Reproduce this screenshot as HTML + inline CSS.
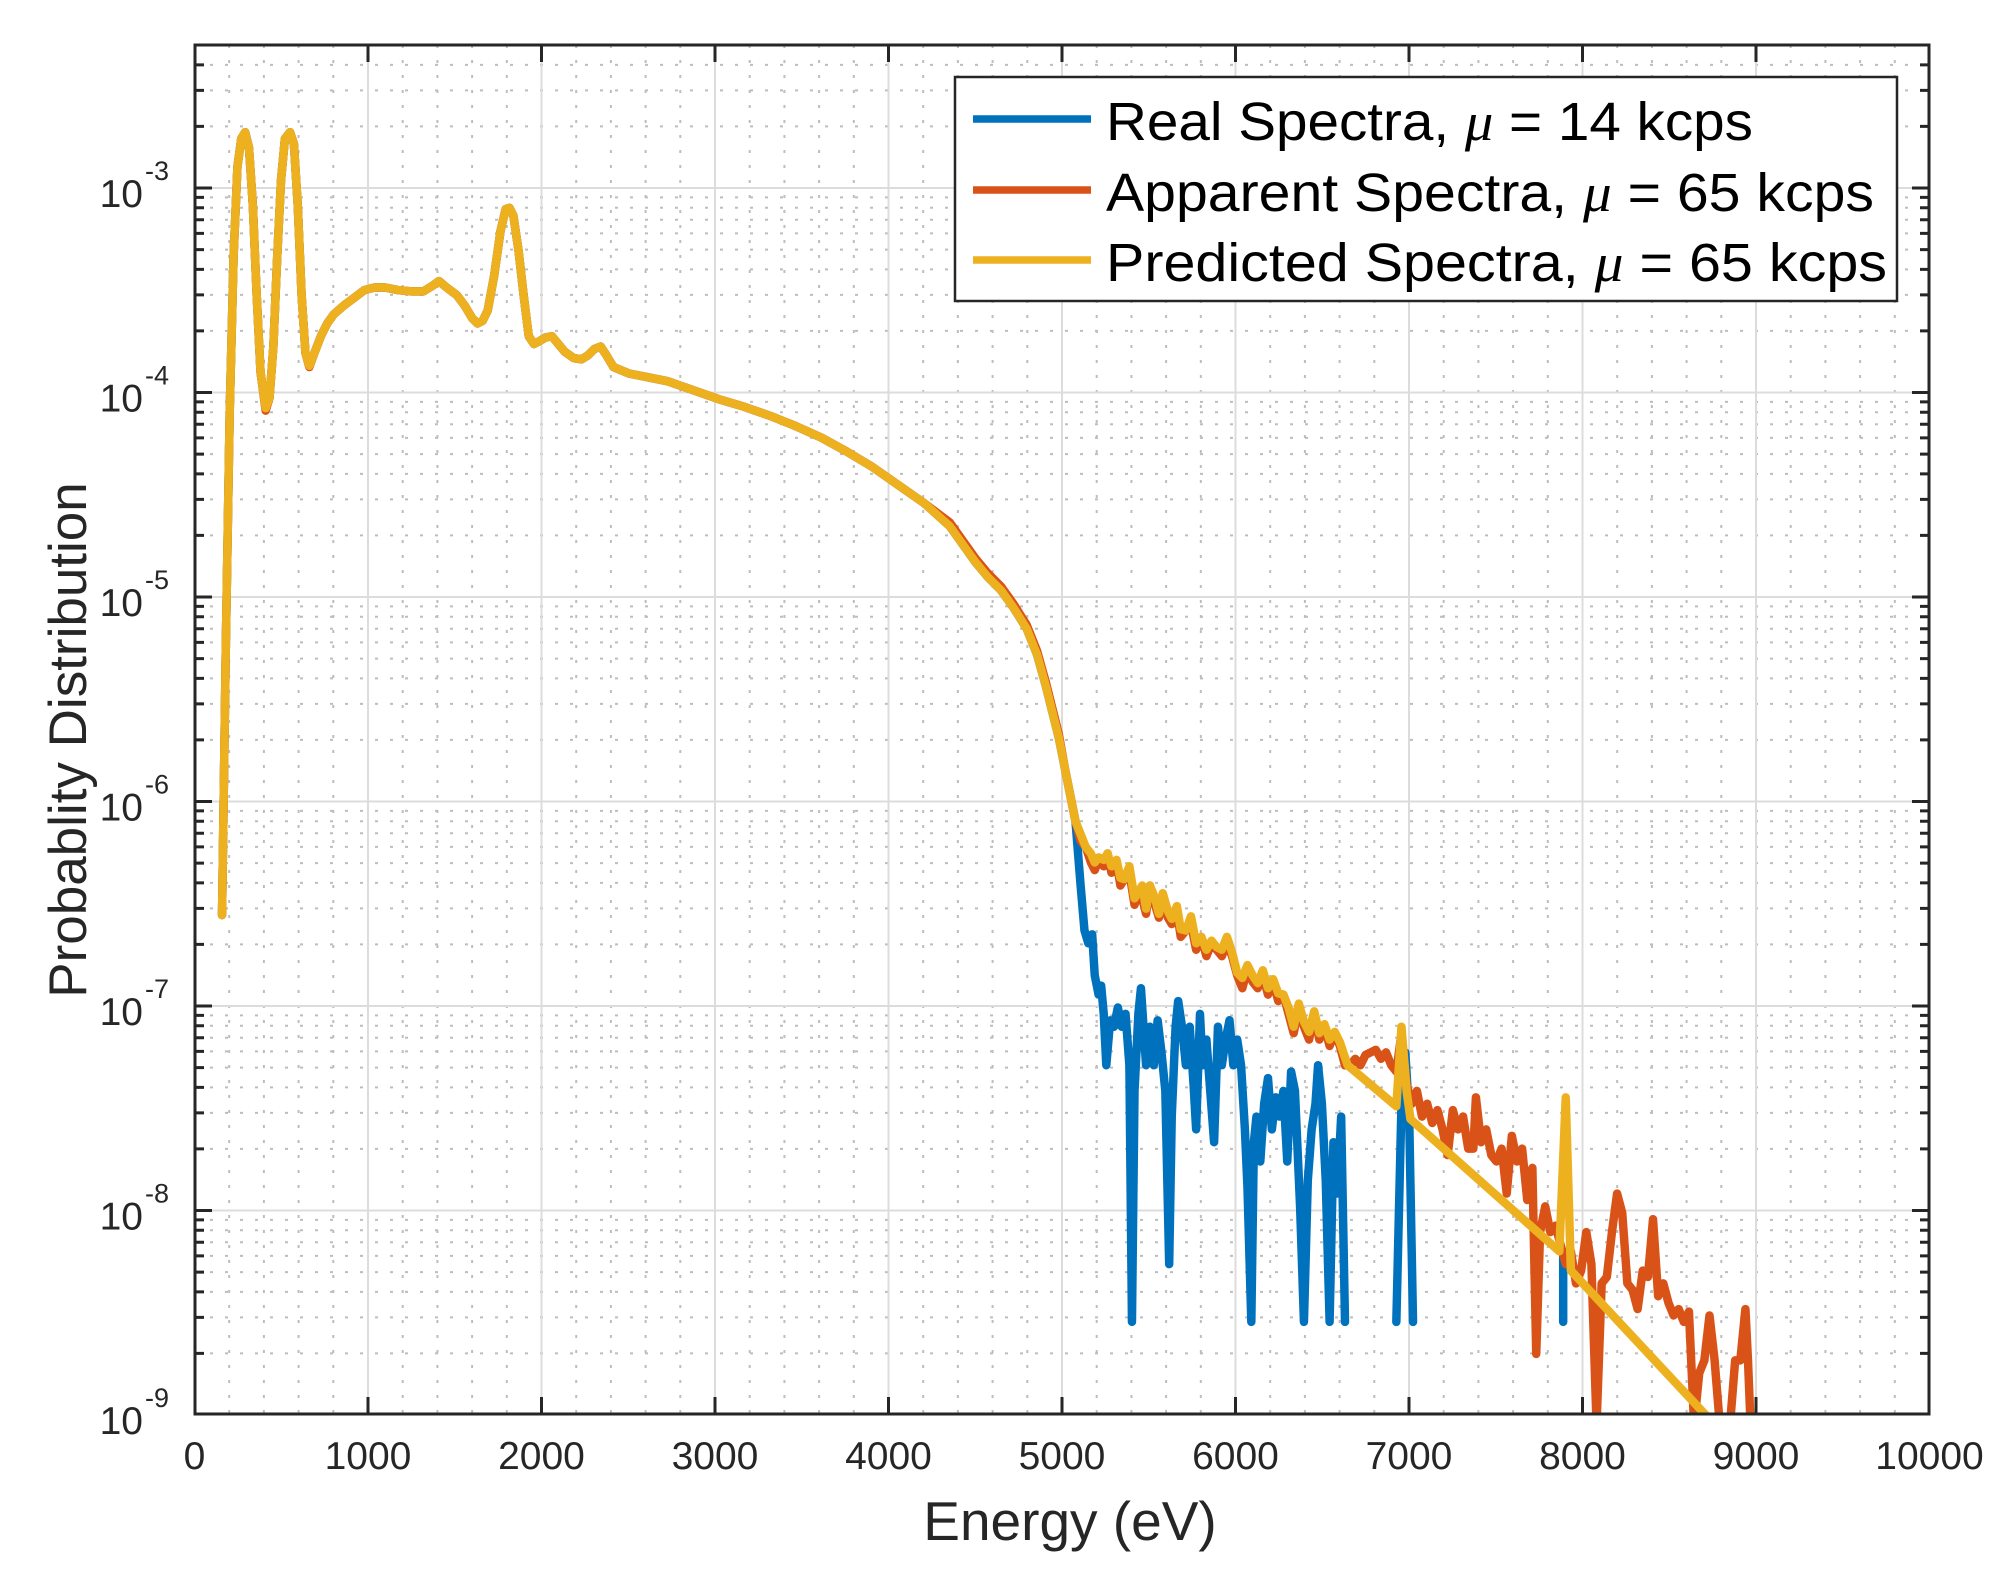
<!DOCTYPE html>
<html><head><meta charset="utf-8"><style>
html,body{margin:0;padding:0;background:#fff;}
svg{display:block;font-family:"Liberation Sans",Arial,sans-serif;}
</style></head><body>
<svg width="2002" height="1577" viewBox="0 0 2002 1577" xmlns="http://www.w3.org/2000/svg">
<defs>
<clipPath id="cp"><rect x="195" y="45" width="1734" height="1369"/></clipPath>
</defs>
<rect width="2002" height="1577" fill="#fff"/>
<path fill="none" stroke="#bdbdbd" stroke-width="2" stroke-dasharray="3,12" d="M229.2,45V1414M263.9,45V1414M298.6,45V1414M333.3,45V1414M402.7,45V1414M437.4,45V1414M472.1,45V1414M506.8,45V1414M576.2,45V1414M610.9,45V1414M645.6,45V1414M680.3,45V1414M749.7,45V1414M784.4,45V1414M819.1,45V1414M853.8,45V1414M923.2,45V1414M957.9,45V1414M992.6,45V1414M1027.3,45V1414M1096.7,45V1414M1131.4,45V1414M1166.1,45V1414M1200.8,45V1414M1270.2,45V1414M1304.9,45V1414M1339.6,45V1414M1374.3,45V1414M1443.7,45V1414M1478.4,45V1414M1513.1,45V1414M1547.8,45V1414M1617.2,45V1414M1651.9,45V1414M1686.6,45V1414M1721.3,45V1414M1790.7,45V1414M1825.4,45V1414M1860.1,45V1414M1894.8,45V1414"/>
<path fill="none" stroke="#bdbdbd" stroke-width="2" stroke-dasharray="3,12" d="M195,1353.4H1929M195,1317.4H1929M195,1291.9H1929M195,1272.1H1929M195,1255.9H1929M195,1242.2H1929M195,1230.3H1929M195,1219.9H1929M195,1148.9H1929M195,1112.9H1929M195,1087.4H1929M195,1067.6H1929M195,1051.4H1929M195,1037.7H1929M195,1025.8H1929M195,1015.4H1929M195,944.4H1929M195,908.4H1929M195,882.9H1929M195,863.1H1929M195,846.9H1929M195,833.2H1929M195,821.3H1929M195,810.9H1929M195,739.9H1929M195,703.9H1929M195,678.4H1929M195,658.6H1929M195,642.4H1929M195,628.7H1929M195,616.8H1929M195,606.4H1929M195,535.4H1929M195,499.4H1929M195,473.9H1929M195,454.1H1929M195,437.9H1929M195,424.2H1929M195,412.3H1929M195,401.9H1929M195,330.9H1929M195,294.9H1929M195,269.4H1929M195,249.6H1929M195,233.4H1929M195,219.7H1929M195,207.8H1929M195,197.4H1929M195,126.4H1929M195,90.4H1929M195,64.9H1929"/>
<path fill="none" stroke="#dcdcdc" stroke-width="2" d="M368,45V1414M541.5,45V1414M715,45V1414M888.5,45V1414M1062,45V1414M1235.5,45V1414M1409,45V1414M1582.5,45V1414M1756,45V1414M195,1210.5H1929M195,1006H1929M195,801.5H1929M195,597H1929M195,392.5H1929M195,188H1929"/>

<g clip-path="url(#cp)">
<g transform="scale(1.2834)" fill="none" stroke-linejoin="round" stroke-linecap="round" stroke-width="6.6">
<path stroke="#0072BD" d="M173,713L176,500L179,320L182,200L185,130L188,108L191,103L194,115L197,160L200,230L203,290L207,318L210,310L213,270L216,200L219,140L222,108L226,103L229,112L232,160L235,230L238,275L241,285L245,275L250,262L255,252L260,245L268,238L276,232L284,226L292,224L300,224L310,226L320,227L330,227L338,222L342,219L348,224L356,230L362,238L368,248L372,252L376,250L380,242L385,215L390,180L394,163L397,162L400,168L404,195L408,230L412,262L416,268L420,266L425,263L430,262L435,268L440,274L447,279L453,280L458,277L463,272L468,270L472,276L478,286L490,291L505,294L520,297L540,304L560,311L580,317L600,324L620,332L640,341L660,352L680,364L700,378L720,392L740,410L750,424L760,438L770,450L780,460L790,474L800,490L808,510L815,535L820,555L825,575L830,600L834,620L838,640L842,690L845,725L848,735L851,728L853,760L856,775L858,768L860,790L862,830L865,795L868,800L871,785L874,800L877,790L880,830L882,1030L884,850L887,790L889,770L891,800L893,830L896,800L899,830L902,795L905,820L908,850L911,985L913,870L916,800L918,780L921,800L924,830L927,800L930,845L932,880L935,790L937,830L940,810L943,850L946,890L949,800L952,830L955,810L958,795L961,830L964,810L967,830L970,880L972,925L975,1030L977,890L979,870L982,905L985,860L988,840L991,880L994,855L997,870L1000,850L1003,905L1006,835L1009,850L1013,940L1016,1030L1019,920L1022,880L1025,860L1027,830L1030,860L1033,920L1036,1030L1039,890L1042,930L1045,870L1048,1030M1088,1030L1092,860L1095,820L1098,870L1101,1030M1218,975L1218,1030"/>
<path stroke="#D95319" d="M173,713L176,500L179,320L182,200L185,130L188,108L191,103L194,115L197,160L200,230L203,290L207,320L210,310L213,270L216,200L219,140L222,108L226,103L229,112L232,160L235,230L238,275L241,286L245,275L250,262L255,252L260,245L268,238L276,232L284,226L292,224L300,224L310,226L320,227L330,227L338,222L342,219L348,224L356,230L362,238L368,248L372,252L376,250L380,242L385,215L390,180L394,163L397,162L400,168L404,195L408,230L412,262L416,268L420,266L425,263L430,262L435,268L440,274L447,279L453,280L458,277L463,272L468,270L472,276L478,286L490,291L505,294L520,297L540,304L560,311L580,317L600,324L620,332L640,341L660,352L680,364L700,378L720,392L740,407L750,421L760,435L770,447L780,457L790,471L800,487L808,507L815,532L820,552L825,572L830,600L834,620L838,640L842,655L846,660L850,672L853,678L856,670L860,675L863,665L866,680L870,672L873,690L876,685L880,680L884,705L887,695L890,700L893,712L896,690L900,705L903,715L906,700L910,715L913,720L917,710L920,730L924,725L928,720L932,740L936,730L940,745L944,735L948,740L952,745L956,735L960,745L964,760L968,770L972,755L976,765L980,770L984,760L988,775L992,765L996,780L1000,775L1004,790L1008,805L1012,785L1016,800L1020,810L1024,790L1028,810L1032,800L1036,815L1040,805L1044,815L1048,830L1052,830L1056,825L1060,830L1064,822L1068,820L1072,818L1076,825L1080,820L1084,830L1088,835L1092,805L1096,845L1100,860L1104,850L1108,870L1112,860L1116,875L1120,865L1124,880L1128,900L1132,865L1136,880L1140,870L1144,895L1148,895L1150,855L1154,890L1158,880L1162,900L1166,905L1170,895L1174,930L1178,885L1182,905L1186,895L1190,935L1194,910L1197,1055L1200,960L1204,940L1208,960L1212,955L1216,970L1220,985L1224,975L1228,1000L1232,990L1236,960L1240,985L1244,1110L1248,1000L1252,995L1256,960L1260,930L1264,945L1268,1000L1272,1005L1276,1020L1280,990L1284,995L1288,950L1292,1010L1296,1000L1300,1015L1304,1025L1308,1020L1312,1030L1316,1022L1320,1110L1324,1070L1328,1060L1332,1025L1336,1060L1340,1110L1344,1110L1348,1110L1352,1060L1356,1060L1360,1020L1362,1060L1364,1110"/>
<path stroke="#EDB120" d="M173,713L176,500L179,320L182,200L185,130L188,108L191,103L194,115L197,160L200,230L203,290L207,318L210,310L213,270L216,200L219,140L222,108L226,103L229,112L232,160L235,230L238,275L241,285L245,275L250,262L255,252L260,245L268,238L276,232L284,226L292,224L300,224L310,226L320,227L330,227L338,222L342,219L348,224L356,230L362,238L368,248L372,252L376,250L380,242L385,215L390,180L394,163L397,162L400,168L404,195L408,230L412,262L416,268L420,266L425,263L430,262L435,268L440,274L447,279L453,280L458,277L463,272L468,270L472,276L478,286L490,291L505,294L520,297L540,304L560,311L580,317L600,324L620,332L640,341L660,352L680,364L700,378L720,392L740,410L750,424L760,438L770,450L780,460L790,474L800,490L808,510L815,535L820,555L825,575L830,600L834,620L838,640L842,650L846,660L850,665L853,672L856,668L860,670L863,665L866,675L870,670L873,684L876,685L880,675L884,700L887,695L890,690L893,708L896,690L900,700L903,712L906,696L910,710L913,716L917,706L920,724L924,725L928,714L932,735L936,730L940,740L944,733L948,738L952,740L956,730L960,742L964,758L968,762L972,752L976,760L980,766L984,756L988,770L992,763L996,774L1000,775L1004,785L1008,800L1012,782L1016,796L1020,804L1024,788L1028,805L1032,798L1036,810L1040,804L1044,812L1050,830L1088,862L1092,800L1096,850L1099,872L1215,975L1220,855L1224,990L1336,1110"/>
</g>
</g>

<rect x="195" y="45" width="1734" height="1369" fill="none" stroke="#262626" stroke-width="3"/>
<path fill="none" stroke="#262626" stroke-width="3" d="M368,1414V1397M541.5,1414V1397M715,1414V1397M888.5,1414V1397M1062,1414V1397M1235.5,1414V1397M1409,1414V1397M1582.5,1414V1397M1756,1414V1397M368,45V62M541.5,45V62M715,45V62M888.5,45V62M1062,45V62M1235.5,45V62M1409,45V62M1582.5,45V62M1756,45V62"/>
<path fill="none" stroke="#262626" stroke-width="3" d="M195,1210.5H212M195,1006H212M195,801.5H212M195,597H212M195,392.5H212M195,188H212M1929,1210.5H1912M1929,1006H1912M1929,801.5H1912M1929,597H1912M1929,392.5H1912M1929,188H1912
M195,1353.4H204M195,1317.4H204M195,1291.9H204M195,1272.1H204M195,1255.9H204M195,1242.2H204M195,1230.3H204M195,1219.9H204M195,1148.9H204M195,1112.9H204M195,1087.4H204M195,1067.6H204M195,1051.4H204M195,1037.7H204M195,1025.8H204M195,1015.4H204M195,944.4H204M195,908.4H204M195,882.9H204M195,863.1H204M195,846.9H204M195,833.2H204M195,821.3H204M195,810.9H204M195,739.9H204M195,703.9H204M195,678.4H204M195,658.6H204M195,642.4H204M195,628.7H204M195,616.8H204M195,606.4H204M195,535.4H204M195,499.4H204M195,473.9H204M195,454.1H204M195,437.9H204M195,424.2H204M195,412.3H204M195,401.9H204M195,330.9H204M195,294.9H204M195,269.4H204M195,249.6H204M195,233.4H204M195,219.7H204M195,207.8H204M195,197.4H204M195,126.4H204M195,90.4H204M195,64.9H204
M1929,1353.4H1920M1929,1317.4H1920M1929,1291.9H1920M1929,1272.1H1920M1929,1255.9H1920M1929,1242.2H1920M1929,1230.3H1920M1929,1219.9H1920M1929,1148.9H1920M1929,1112.9H1920M1929,1087.4H1920M1929,1067.6H1920M1929,1051.4H1920M1929,1037.7H1920M1929,1025.8H1920M1929,1015.4H1920M1929,944.4H1920M1929,908.4H1920M1929,882.9H1920M1929,863.1H1920M1929,846.9H1920M1929,833.2H1920M1929,821.3H1920M1929,810.9H1920M1929,739.9H1920M1929,703.9H1920M1929,678.4H1920M1929,658.6H1920M1929,642.4H1920M1929,628.7H1920M1929,616.8H1920M1929,606.4H1920M1929,535.4H1920M1929,499.4H1920M1929,473.9H1920M1929,454.1H1920M1929,437.9H1920M1929,424.2H1920M1929,412.3H1920M1929,401.9H1920M1929,330.9H1920M1929,294.9H1920M1929,269.4H1920M1929,249.6H1920M1929,233.4H1920M1929,219.7H1920M1929,207.8H1920M1929,197.4H1920M1929,126.4H1920M1929,90.4H1920M1929,64.9H1920"/>

<g font-size="39" fill="#262626" text-anchor="middle">
<text x="194.5" y="1469">0</text>
<text x="368" y="1469">1000</text>
<text x="541.5" y="1469">2000</text>
<text x="715" y="1469">3000</text>
<text x="888.5" y="1469">4000</text>
<text x="1062" y="1469">5000</text>
<text x="1235.5" y="1469">6000</text>
<text x="1409" y="1469">7000</text>
<text x="1582.5" y="1469">8000</text>
<text x="1756" y="1469">9000</text>
<text x="1929.5" y="1469">10000</text>
</g>
<g fill="#262626">
<text x="143" y="1434" font-size="39" text-anchor="end">10</text><text x="145" y="1407" font-size="27">-9</text>
<text x="143" y="1229.5" font-size="39" text-anchor="end">10</text><text x="145" y="1202.5" font-size="27">-8</text>
<text x="143" y="1025" font-size="39" text-anchor="end">10</text><text x="145" y="998" font-size="27">-7</text>
<text x="143" y="820.5" font-size="39" text-anchor="end">10</text><text x="145" y="793.5" font-size="27">-6</text>
<text x="143" y="616" font-size="39" text-anchor="end">10</text><text x="145" y="589" font-size="27">-5</text>
<text x="143" y="411.5" font-size="39" text-anchor="end">10</text><text x="145" y="384.5" font-size="27">-4</text>
<text x="143" y="207" font-size="39" text-anchor="end">10</text><text x="145" y="180" font-size="27">-3</text>
</g>

<rect x="955" y="77" width="942" height="224" fill="#fff" stroke="#262626" stroke-width="2.5"/>
<line x1="973" y1="119" x2="1091" y2="119" stroke="#0072BD" stroke-width="7.5"/>
<line x1="973" y1="190" x2="1091" y2="190" stroke="#D95319" stroke-width="7.5"/>
<line x1="973" y1="260" x2="1091" y2="260" stroke="#EDB120" stroke-width="7.5"/>
<g font-size="54" fill="#000">
<text x="1106" y="140" textLength="647" lengthAdjust="spacingAndGlyphs">Real Spectra, <tspan font-family="Liberation Serif,serif" font-style="italic">μ</tspan> = 14 kcps</text>
<text x="1106" y="211" textLength="768" lengthAdjust="spacingAndGlyphs">Apparent Spectra,  <tspan font-family="Liberation Serif,serif" font-style="italic">μ</tspan> = 65 kcps</text>
<text x="1106" y="281" textLength="781" lengthAdjust="spacingAndGlyphs">Predicted Spectra,  <tspan font-family="Liberation Serif,serif" font-style="italic">μ</tspan> = 65 kcps</text>
</g>
<text x="1070" y="1540" font-size="55" fill="#262626" text-anchor="middle">Energy (eV)</text>
<text transform="translate(86,740) rotate(-90)" font-size="53" fill="#262626" text-anchor="middle">Probablity Distribution</text>
</svg>
</body></html>
